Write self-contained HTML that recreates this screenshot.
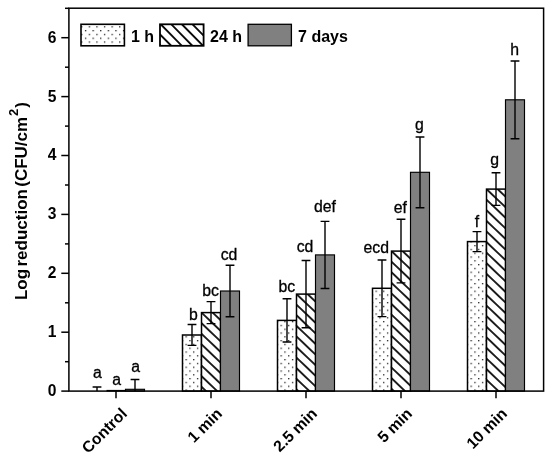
<!DOCTYPE html>
<html><head><meta charset="utf-8"><title>Log reduction chart</title>
<style>
html,body{margin:0;padding:0;background:#fff;}
body{width:550px;height:458px;overflow:hidden;}
svg{display:block;}
text{font-family:"Liberation Sans",Arial,sans-serif;fill:#000;}
.tk{font-weight:bold;font-size:15.6px;}
.yt{font-weight:bold;font-size:17px;word-spacing:-2.4px;}
.lg{font-weight:bold;font-size:16px;}
.lb{font-size:15.8px;stroke:#000;stroke-width:0.3px;}
</style></head><body>
<svg width="550" height="458" viewBox="0 0 550 458">
<defs>
<pattern id="dots" patternUnits="userSpaceOnUse" width="7.6" height="7.6" patternTransform="translate(474.3,351.4)">
<rect x="0" y="0" width="1.3" height="1.3" fill="#222"/>
<rect x="3.8" y="3.8" width="1.3" height="1.3" fill="#222"/>
</pattern>
<pattern id="h1" patternUnits="userSpaceOnUse" width="20" height="7.67" patternTransform="translate(201.5,312.6) rotate(43.6) translate(0,-3.835)"><rect x="0" y="2.985" width="20" height="1.7" fill="#000"/></pattern>
<pattern id="h2" patternUnits="userSpaceOnUse" width="20" height="7.67" patternTransform="translate(296.5,294.1) rotate(43.6) translate(0,-3.835)"><rect x="0" y="2.985" width="20" height="1.7" fill="#000"/></pattern>
<pattern id="h3" patternUnits="userSpaceOnUse" width="20" height="7.67" patternTransform="translate(391.5,251.1) rotate(43.6) translate(0,-3.835)"><rect x="0" y="2.985" width="20" height="1.7" fill="#000"/></pattern>
<pattern id="h4" patternUnits="userSpaceOnUse" width="20" height="7.67" patternTransform="translate(486.5,189.1) rotate(43.6) translate(0,-3.835)"><rect x="0" y="2.985" width="20" height="1.7" fill="#000"/></pattern>
<pattern id="dots2" patternUnits="userSpaceOnUse" width="7.6" height="7.6" patternTransform="translate(88.7,26.2)">
<rect x="0" y="0" width="1.3" height="1.3" fill="#222"/>
<rect x="3.8" y="3.8" width="1.3" height="1.3" fill="#222"/>
</pattern>
<pattern id="hatch2" patternUnits="userSpaceOnUse" width="20" height="7.56" patternTransform="translate(171.2,24.2) rotate(45.5) translate(0,-3.78)">
<rect x="0" y="2.88" width="20" height="1.8" fill="#000"/>
</pattern>
</defs>
<rect width="550" height="458" fill="#fff"/>

<line x1="106.5" y1="390.7" x2="125.5" y2="390.7" stroke="#000" stroke-width="1.6"/>
<rect x="125.5" y="389.3" width="19" height="1.8" fill="#fff"/>
<rect x="125.5" y="389.3" width="19" height="1.8" fill="#808080" stroke="#000" stroke-width="1.15"/>
<rect x="182.5" y="335.0" width="19" height="56.1" fill="#fff"/>
<rect x="182.5" y="335.0" width="19" height="56.1" fill="url(#dots)" stroke="#000" stroke-width="1.5"/>
<rect x="201.5" y="312.6" width="19" height="78.5" fill="#fff"/>
<rect x="201.5" y="312.6" width="19" height="78.5" fill="url(#h1)" stroke="#000" stroke-width="1.5"/>
<rect x="220.5" y="291.0" width="19" height="100.1" fill="#fff"/>
<rect x="220.5" y="291.0" width="19" height="100.1" fill="#808080" stroke="#000" stroke-width="1.15"/>
<rect x="277.5" y="320.4" width="19" height="70.7" fill="#fff"/>
<rect x="277.5" y="320.4" width="19" height="70.7" fill="url(#dots)" stroke="#000" stroke-width="1.5"/>
<rect x="296.5" y="294.1" width="19" height="97.0" fill="#fff"/>
<rect x="296.5" y="294.1" width="19" height="97.0" fill="url(#h2)" stroke="#000" stroke-width="1.5"/>
<rect x="315.5" y="254.9" width="19" height="136.2" fill="#fff"/>
<rect x="315.5" y="254.9" width="19" height="136.2" fill="#808080" stroke="#000" stroke-width="1.15"/>
<rect x="372.5" y="288.3" width="19" height="102.8" fill="#fff"/>
<rect x="372.5" y="288.3" width="19" height="102.8" fill="url(#dots)" stroke="#000" stroke-width="1.5"/>
<rect x="391.5" y="251.1" width="19" height="140.0" fill="#fff"/>
<rect x="391.5" y="251.1" width="19" height="140.0" fill="url(#h3)" stroke="#000" stroke-width="1.5"/>
<rect x="410.5" y="172.3" width="19" height="218.8" fill="#fff"/>
<rect x="410.5" y="172.3" width="19" height="218.8" fill="#808080" stroke="#000" stroke-width="1.15"/>
<rect x="467.5" y="241.6" width="19" height="149.5" fill="#fff"/>
<rect x="467.5" y="241.6" width="19" height="149.5" fill="url(#dots)" stroke="#000" stroke-width="1.5"/>
<rect x="486.5" y="189.1" width="19" height="202.0" fill="#fff"/>
<rect x="486.5" y="189.1" width="19" height="202.0" fill="url(#h4)" stroke="#000" stroke-width="1.5"/>
<rect x="505.5" y="99.8" width="19" height="291.3" fill="#fff"/>
<rect x="505.5" y="99.8" width="19" height="291.3" fill="#808080" stroke="#000" stroke-width="1.15"/>
<path d="M97.0 387.0V391.1M92.6 387.0H101.4" stroke="#000" stroke-width="1.4" fill="none"/>
<path d="M135.0 379.5V391.1M130.6 379.5H139.4" stroke="#000" stroke-width="1.4" fill="none"/>
<path d="M192.0 324.5V345.4M187.6 324.5H196.4M187.6 345.4H196.4" stroke="#000" stroke-width="1.4" fill="none"/>
<path d="M211.0 301.6V323.6M206.6 301.6H215.4M206.6 323.6H215.4" stroke="#000" stroke-width="1.4" fill="none"/>
<path d="M230.0 265.2V316.8M225.6 265.2H234.4M225.6 316.8H234.4" stroke="#000" stroke-width="1.4" fill="none"/>
<path d="M287.0 298.8V342.0M282.6 298.8H291.4M282.6 342.0H291.4" stroke="#000" stroke-width="1.4" fill="none"/>
<path d="M306.0 260.5V327.7M301.6 260.5H310.4M301.6 327.7H310.4" stroke="#000" stroke-width="1.4" fill="none"/>
<path d="M325.0 221.4V288.5M320.6 221.4H329.4M320.6 288.5H329.4" stroke="#000" stroke-width="1.4" fill="none"/>
<path d="M382.0 260.0V316.6M377.6 260.0H386.4M377.6 316.6H386.4" stroke="#000" stroke-width="1.4" fill="none"/>
<path d="M401.0 219.3V282.9M396.6 219.3H405.4M396.6 282.9H405.4" stroke="#000" stroke-width="1.4" fill="none"/>
<path d="M420.0 137.0V207.7M415.6 137.0H424.4M415.6 207.7H424.4" stroke="#000" stroke-width="1.4" fill="none"/>
<path d="M477.0 231.6V251.6M472.6 231.6H481.4M472.6 251.6H481.4" stroke="#000" stroke-width="1.4" fill="none"/>
<path d="M496.0 172.8V205.4M491.6 172.8H500.4M491.6 205.4H500.4" stroke="#000" stroke-width="1.4" fill="none"/>
<path d="M515.0 61.0V138.7M510.6 61.0H519.4M510.6 138.7H519.4" stroke="#000" stroke-width="1.4" fill="none"/>
<text class="lb" x="97.5" y="378.3" text-anchor="middle">a</text>
<text class="lb" x="116.7" y="385" text-anchor="middle">a</text>
<text class="lb" x="135.6" y="371.9" text-anchor="middle">a</text>
<text class="lb" x="193.3" y="319.5" text-anchor="middle">b</text>
<text class="lb" x="210.6" y="296.2" text-anchor="middle">bc</text>
<text class="lb" x="229" y="260.4" text-anchor="middle">cd</text>
<text class="lb" x="286.8" y="291.7" text-anchor="middle">bc</text>
<text class="lb" x="305" y="251.5" text-anchor="middle">cd</text>
<text class="lb" x="325" y="212.3" text-anchor="middle">def</text>
<text class="lb" x="376.3" y="253.1" text-anchor="middle">ecd</text>
<text class="lb" x="400.3" y="212.5" text-anchor="middle">ef</text>
<text class="lb" x="419.5" y="130.1" text-anchor="middle">g</text>
<text class="lb" x="477" y="227" text-anchor="middle">f</text>
<text class="lb" x="494.6" y="164.9" text-anchor="middle">g</text>
<text class="lb" x="514.7" y="54.7" text-anchor="middle">h</text>
<rect x="68.9" y="8.2" width="474.7" height="382.9" fill="none" stroke="#000" stroke-width="1.5"/>
<line x1="61.3" y1="391.1" x2="68.9" y2="391.1" stroke="#000" stroke-width="1.5"/>
<text class="tk" x="56.4" y="396.0" text-anchor="end">0</text>
<line x1="65" y1="361.7" x2="68.9" y2="361.7" stroke="#000" stroke-width="1.5"/>
<line x1="61.3" y1="332.2" x2="68.9" y2="332.2" stroke="#000" stroke-width="1.5"/>
<text class="tk" x="56.4" y="337.1" text-anchor="end">1</text>
<line x1="65" y1="302.8" x2="68.9" y2="302.8" stroke="#000" stroke-width="1.5"/>
<line x1="61.3" y1="273.3" x2="68.9" y2="273.3" stroke="#000" stroke-width="1.5"/>
<text class="tk" x="56.4" y="278.2" text-anchor="end">2</text>
<line x1="65" y1="243.9" x2="68.9" y2="243.9" stroke="#000" stroke-width="1.5"/>
<line x1="61.3" y1="214.4" x2="68.9" y2="214.4" stroke="#000" stroke-width="1.5"/>
<text class="tk" x="56.4" y="219.3" text-anchor="end">3</text>
<line x1="65" y1="185.0" x2="68.9" y2="185.0" stroke="#000" stroke-width="1.5"/>
<line x1="61.3" y1="155.5" x2="68.9" y2="155.5" stroke="#000" stroke-width="1.5"/>
<text class="tk" x="56.4" y="160.4" text-anchor="end">4</text>
<line x1="65" y1="126.1" x2="68.9" y2="126.1" stroke="#000" stroke-width="1.5"/>
<line x1="61.3" y1="96.6" x2="68.9" y2="96.6" stroke="#000" stroke-width="1.5"/>
<text class="tk" x="56.4" y="101.5" text-anchor="end">5</text>
<line x1="65" y1="67.2" x2="68.9" y2="67.2" stroke="#000" stroke-width="1.5"/>
<line x1="61.3" y1="37.7" x2="68.9" y2="37.7" stroke="#000" stroke-width="1.5"/>
<text class="tk" x="56.4" y="42.6" text-anchor="end">6</text>
<line x1="65" y1="8.3" x2="68.9" y2="8.3" stroke="#000" stroke-width="1.5"/>
<line x1="116" y1="391.1" x2="116" y2="398.3" stroke="#000" stroke-width="1.5"/>
<text class="tk" style="font-size:15.8px;word-spacing:-0.4px" text-anchor="end" transform="translate(128,414.6) rotate(-45)">Control</text>
<line x1="211" y1="391.1" x2="211" y2="398.3" stroke="#000" stroke-width="1.5"/>
<text class="tk" style="font-size:15.8px;word-spacing:-0.4px" text-anchor="end" transform="translate(223,414.6) rotate(-45)">1 min</text>
<line x1="306" y1="391.1" x2="306" y2="398.3" stroke="#000" stroke-width="1.5"/>
<text class="tk" style="font-size:15.8px;word-spacing:-0.4px" text-anchor="end" transform="translate(318,414.6) rotate(-45)">2.5 min</text>
<line x1="401" y1="391.1" x2="401" y2="398.3" stroke="#000" stroke-width="1.5"/>
<text class="tk" style="font-size:15.8px;word-spacing:-0.4px" text-anchor="end" transform="translate(413,414.6) rotate(-45)">5 min</text>
<line x1="496" y1="391.1" x2="496" y2="398.3" stroke="#000" stroke-width="1.5"/>
<text class="tk" style="font-size:15.8px;word-spacing:-0.4px" text-anchor="end" transform="translate(508,414.6) rotate(-45)">10 min</text>
<text class="yt" text-anchor="middle" transform="translate(27.2,201) rotate(-90)">Log reduction (CFU/cm<tspan dx="1" dy="-9" font-size="13">2</tspan><tspan dx="1" dy="9">)</tspan></text>
<rect x="81" y="24.3" width="43.4" height="21.5" fill="#fff"/>
<rect x="81" y="24.3" width="43.4" height="21.5" fill="url(#dots2)" stroke="#000" stroke-width="1.6"/>
<rect x="160" y="24.3" width="43.6" height="21.5" fill="#fff"/>
<rect x="160" y="24.3" width="43.6" height="21.5" fill="url(#hatch2)" stroke="#000" stroke-width="1.8"/>
<rect x="248.1" y="24.3" width="43.3" height="21.5" fill="#fff"/>
<rect x="248.1" y="24.3" width="43.3" height="21.5" fill="#808080" stroke="#000" stroke-width="1.3"/>
<text class="lg" x="130.9" y="41.7">1 h</text>
<text class="lg" x="210" y="41.7">24 h</text>
<text class="lg" x="298.1" y="41.7">7 days</text>
</svg></body></html>
